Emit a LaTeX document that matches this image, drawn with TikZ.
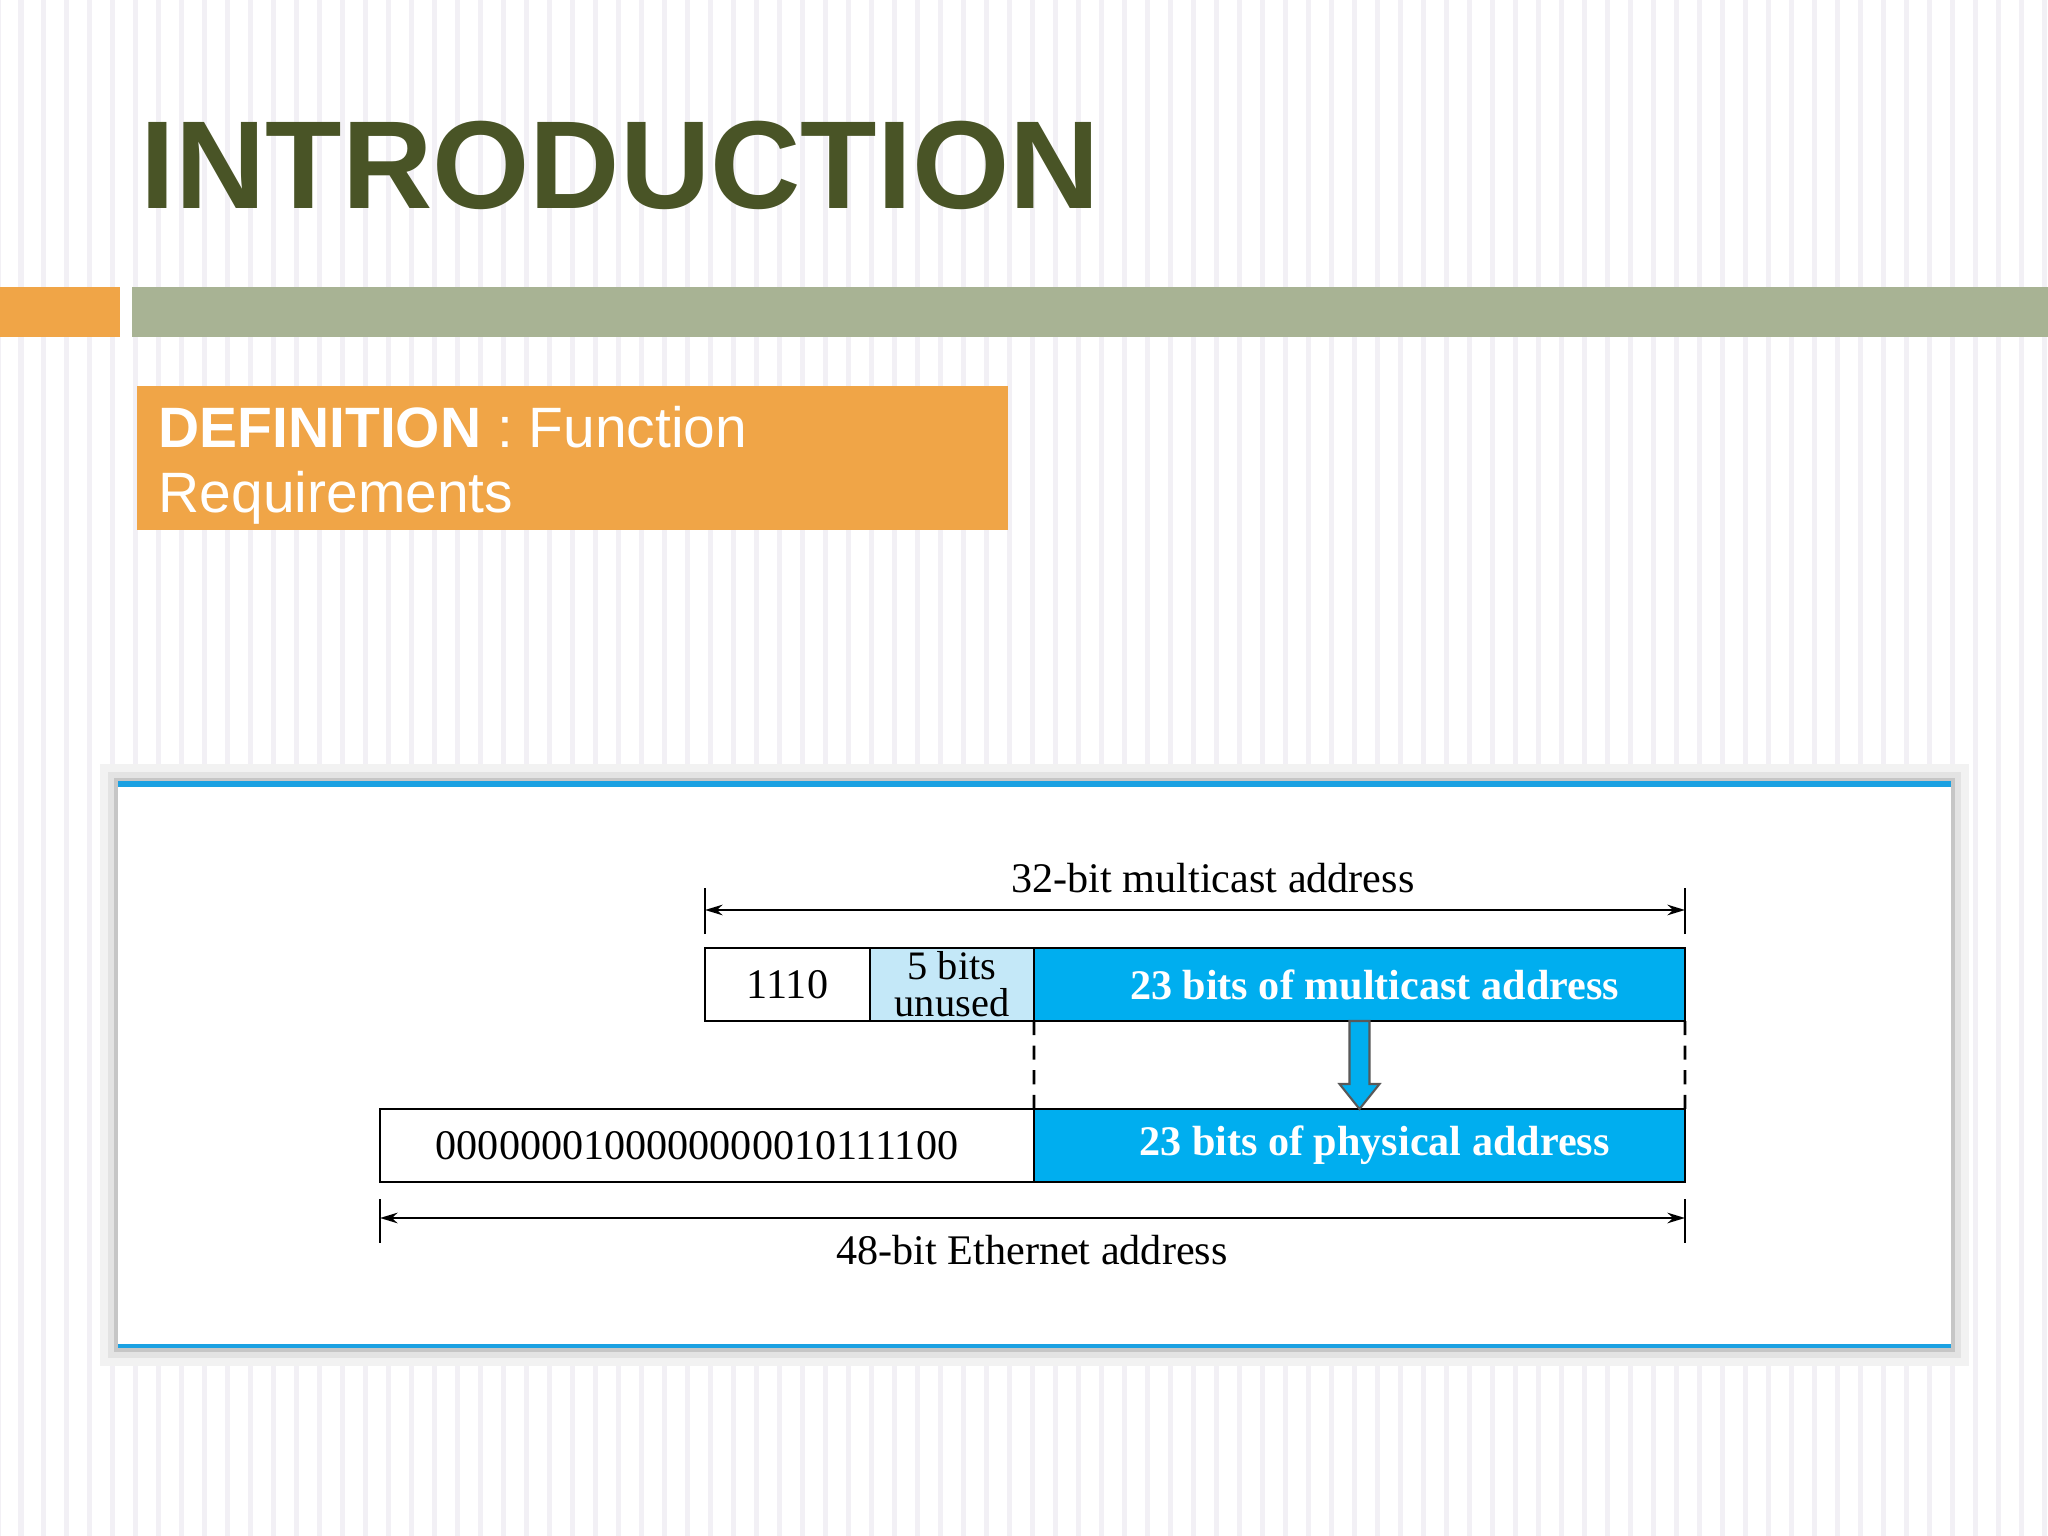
\documentclass[tikz,border=0pt]{standalone}
\usepackage{fontspec}
\setmainfont{Liberation Serif}
\newfontfamily\slidefont{Liberation Sans}
\usetikzlibrary{positioning,calc,arrows.meta}

\definecolor{titleolive}{RGB}{73,84,38}
\definecolor{barorange}{RGB}{240,165,71}
\definecolor{bargreen}{RGB}{168,179,148}
\definecolor{boxblue}{RGB}{0,174,239}
\definecolor{paleblue}{RGB}{196,232,248}
\definecolor{stripegray}{RGB}{242,240,245}
\definecolor{panelblue}{RGB}{27,161,226}

\tikzset{
    cell/.style={draw, line width=0.8pt, minimum height=0.73cm, inner sep=0pt, outer sep=0pt,
        anchor=north west, font=\fontsize{12}{12}\selectfont},
    bluecell/.style={cell, fill=boxblue, text=white, font=\bfseries\fontsize{12}{12}\selectfont},
    dimline/.style={line width=0.7pt, {Stealth[length=5pt,width=3pt]}-{Stealth[length=5pt,width=3pt]}},
    dimtick/.style={line width=0.5pt},
    dimlabel/.style={font=\fontsize{12}{12}\selectfont, inner sep=0pt}
}

\begin{document}
\begin{tikzpicture}
    \useasboundingbox (0,0) rectangle (20.48,-15.36);
    \fill[white] (0,0) rectangle (20.48,-15.36);
    % striped background
    \foreach \i in {0,...,89}
        \fill[stripegray] ({0.23*\i-0.045},0) rectangle ({0.23*\i+0.005},-15.36);

    % title and bars
    \node[anchor=base west, inner sep=0pt, text=titleolive,
        font=\slidefont\bfseries\fontsize{35.6}{40}\selectfont] (title) at (1.40,-2.09) {INTRODUCTION};
    \fill[barorange] (0,-2.87) rectangle (1.20,-3.37);
    \fill[bargreen] (1.32,-2.87) rectangle (20.48,-3.37);

    % definition box
    \node[fill=barorange, minimum width=8.71cm, minimum height=1.44cm, anchor=north west,
        inner sep=0pt] (defbox) at (1.36,-3.85) {};
    \node[anchor=base west, inner sep=0pt, text=white, font=\slidefont\fontsize{16.2}{18}\selectfont]
        (defline) at (1.58,-4.48) {\textbf{DEFINITION} : Function};
    \node[anchor=base west, inner sep=0pt, text=white, font=\slidefont\fontsize{16.2}{18}\selectfont]
        (reqline) at (1.58,-5.13) {Requirements};

    % panel with shadow
    \fill[gray!10] (1.00,-7.64) rectangle (19.69,-13.66);
    \fill[gray!22] (1.08,-7.72) rectangle (19.61,-13.58);
    \fill[gray!45] (1.14,-7.78) rectangle (19.55,-13.52);
    \fill[white] (1.18,-7.81) rectangle (19.51,-13.48);
    \fill[panelblue] (1.18,-7.81) rectangle (19.51,-7.87);
    \fill[panelblue] (1.18,-13.44) rectangle (19.51,-13.48);

    % multicast address row
    \node[cell, minimum width=1.65cm] (prefix) at (7.05,-9.48) {1110};
    \node[cell, fill=paleblue, minimum width=1.64cm, right=0pt of prefix, align=center,
        font=\fontsize{11.5}{10.5}\selectfont] (unused) {5 bits\\unused};
    \node[bluecell, minimum width=6.51cm, right=0pt of unused] (mcast) {\hspace*{0.3cm}23 bits of multicast address};

    % ethernet address row
    \node[cell, minimum width=6.54cm] (fixed) at (3.80,-11.09) {0000000100000000010111100\hspace*{0.2cm}};
    \node[bluecell, minimum width=6.51cm, right=0pt of fixed] (phys) {\hspace*{0.3cm}23 bits of physical address};

    % dashed guides
    \draw[line width=0.8pt, dash pattern=on 4pt off 3pt] (mcast.south west) -- (phys.north west);
    \draw[line width=0.8pt, dash pattern=on 4pt off 3pt] (mcast.south east) -- (phys.north east);

    % mapping arrow
    \filldraw[fill=boxblue, draw=black!65, line width=0.6pt]
        ($(mcast.south)+(-0.1,0)$) -- ($(phys.north)+(-0.1,0.25)$) -- ($(phys.north)+(-0.2,0.25)$)
        -- (phys.north) -- ($(phys.north)+(0.2,0.25)$) -- ($(phys.north)+(0.1,0.25)$)
        -- ($(mcast.south)+(0.1,0)$) -- cycle;

    % 32-bit dimension
    \coordinate (topl) at ($(prefix.north west)+(0,0.38)$);
    \coordinate (topr) at ($(mcast.north east)+(0,0.38)$);
    \draw[dimtick] ($(prefix.north west)+(0,0.14)$) -- ++(0,0.46);
    \draw[dimtick] ($(mcast.north east)+(0,0.14)$) -- ++(0,0.46);
    \draw[dimline] (topl) -- (topr);
    \node[dimlabel] (toplabel) at (12.13,-8.78) {32-bit multicast address};

    % 48-bit dimension
    \coordinate (botl) at ($(fixed.south west)+(0,-0.36)$);
    \coordinate (botr) at ($(phys.south east)+(0,-0.36)$);
    \draw[dimtick] ($(fixed.south west)+(0,-0.17)$) -- ++(0,-0.44);
    \draw[dimtick] ($(phys.south east)+(0,-0.17)$) -- ++(0,-0.44);
    \draw[dimline] (botl) -- (botr);
    \node[dimlabel] (botlabel) at (10.32,-12.50) {48-bit Ethernet address};
\end{tikzpicture}
\end{document}
